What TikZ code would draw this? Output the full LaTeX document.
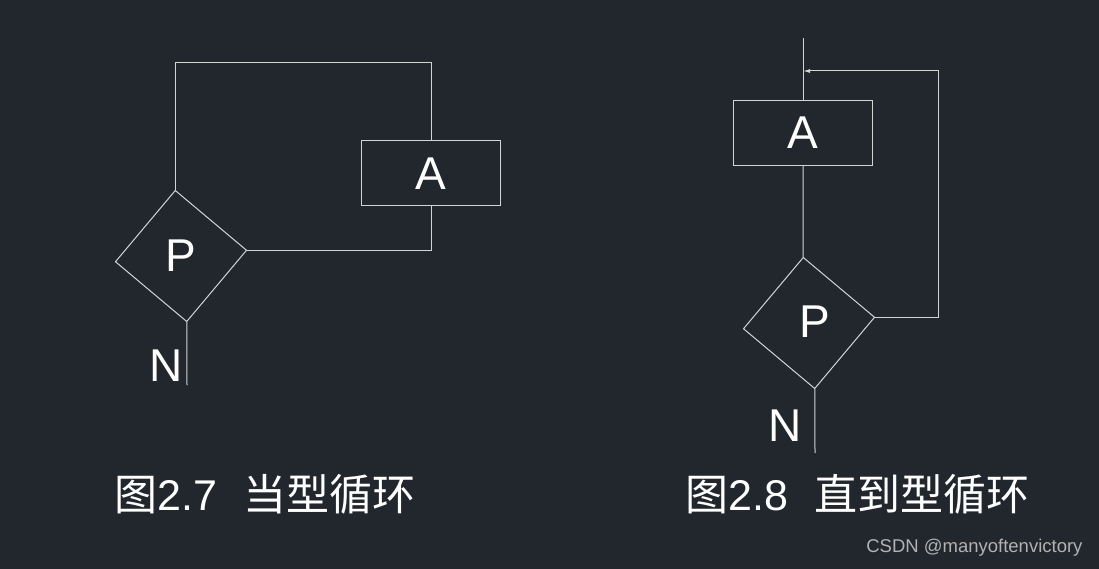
\documentclass[tikz,border=0pt]{standalone}
\usepackage{fontspec}
\setmainfont{Liberation Sans}
\newfontfamily\cjk{Noto Sans CJK SC}
\usepackage{tikz}
\usetikzlibrary{arrows.meta,positioning}
\definecolor{bgc}{RGB}{34,39,46}
\definecolor{linec}{RGB}{212,212,212}

\begin{document}
\begin{tikzpicture}[x=1pt,y=-1pt,>={Latex[length=7pt,width=4pt]},
    line width=1pt, draw=linec,
    box/.style={draw=linec, minimum width=139pt, minimum height=65pt, inner sep=0pt,
        text=white, font=\fontsize{46}{50}\selectfont},
    test/.style={draw=linec, minimum size=93pt, inner sep=0pt, rotate=50},
    lbl/.style={text=white, inner sep=0pt, font=\fontsize{46}{50}\selectfont},
    figcap/.style={text=white, inner sep=0pt, anchor=west, font=\fontsize{43}{48}\selectfont}]
    \fill[bgc] (0,0) rectangle (1099,569);
    \useasboundingbox (0,0) rectangle (1099,569);

    % while loop
    \node[box] (A1) at (431,173.5) {A};
    \node[test] (P1) at (181,256) {};
    \node[lbl] (P1t) at (181,256) {P};
    \node[lbl] (N1) at (166.5,366) {N};
    \coordinate (t1) at (431,63);
    \coordinate (out1) at (187,385);

    \draw (P1.south east) -| (A1.south);
    \draw (A1.north) -- (t1) -| (P1.north east);
    \draw (P1.south west) -- (out1);

    % until loop
    \node[box] (A2) at (803,133) {A};
    \node[test] (P2) at (809,323) {};
    \node[lbl] (P2t) at (815,322) {P};
    \node[lbl] (N2) at (785,426) {N};
    \coordinate (in2) at (803,38);
    \coordinate (join2) at (803,71);
    \coordinate (loop2) at (938,71);
    \coordinate (out2) at (815,453);

    \draw (in2) -- (A2.north);
    \draw (A2.south) -- (P2.north east);
    \draw[->] (P2.south east) -| (loop2) -- (join2);
    \draw (P2.south west) -- (out2);

    % captions
    \node[figcap] (cap1) at (114,494) {{\cjk 图}2.7\hspace{0.6em}{\cjk 当型循环}};
    \node[figcap] (cap2) at (685,494) {{\cjk 图}2.8\hspace{0.6em}{\cjk 直到型循环}};
    \node[text=black!30!white, inner sep=0pt, anchor=east,
        font=\fontsize{18.5}{22}\selectfont] (mark) at (1083,548) {CSDN @manyoftenvictory};
\end{tikzpicture}
\end{document}
